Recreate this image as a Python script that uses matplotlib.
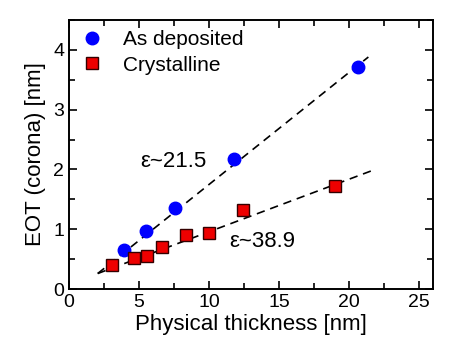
import matplotlib
matplotlib.use("Agg")
import matplotlib.pyplot as plt
from matplotlib.ticker import MultipleLocator

plt.rcParams['font.family'] = ['Liberation Sans', 'DejaVu Sans']

# as deposited films
dep_x = [3.93, 5.5, 7.55, 11.8, 20.64]
dep_y = [0.65, 0.97, 1.35, 2.18, 3.72]

# crystalline films
cry_x = [3.07, 4.62, 5.55, 6.64, 8.33, 10.02, 12.43, 19.02]
cry_y = [0.40, 0.52, 0.55, 0.70, 0.90, 0.94, 1.32, 1.73]

# linear fits (end points)
fit_dep_x = [2.05, 21.38]
fit_dep_y = [0.26, 3.88]
fit_cry_x = [2.05, 21.86]
fit_cry_y = [0.26, 2.00]

fig = plt.figure(figsize=(4.74, 3.56), dpi=100)
ax = fig.add_axes([0.1456, 0.188, 0.768, 0.756])

ax.plot(fit_dep_x, fit_dep_y, color='black', lw=1.2, ls=(0, (5, 3.5)), zorder=1)
ax.plot(fit_cry_x, fit_cry_y, color='black', lw=1.2, ls=(0, (5, 3.5)), zorder=1)

ax.plot(dep_x, dep_y, 'o', color='#0000ff', ms=9, mec='#0000ff',
        label='As deposited', zorder=3)
ax.plot(cry_x, cry_y, 's', color='#ee0000', ms=8, mec='#330000', mew=1.0,
        label='Crystalline', zorder=3)

ax.text(5.07, 2.13, 'ε~21.5', fontsize=16, va='center', ha='left')
ax.text(11.45, 0.80, 'ε~38.9', fontsize=16, va='center', ha='left')

ax.set_xlim(0, 26)
ax.set_ylim(0, 4.5)
ax.xaxis.set_major_locator(MultipleLocator(5))
ax.xaxis.set_minor_locator(MultipleLocator(2.5))
ax.yaxis.set_major_locator(MultipleLocator(1))
ax.yaxis.set_minor_locator(MultipleLocator(0.5))
ax.tick_params(which='both', direction='in', top=True, right=True,
               labelsize=14, width=1.2)
ax.tick_params(which='major', length=6)
ax.tick_params(which='minor', length=4)
for s in ax.spines.values():
    s.set_linewidth(1.4)

ax.set_xlabel('Physical thickness [nm]', fontsize=16, labelpad=2)
ax.set_ylabel('EOT (corona) [nm]', fontsize=16, labelpad=5)

ax.legend(loc='upper left', frameon=False, fontsize=15, handletextpad=0.9,
          borderaxespad=0.2, labelspacing=0.3, borderpad=0.3,
          handlelength=1.2)

fig.savefig('out.png', dpi=100)
